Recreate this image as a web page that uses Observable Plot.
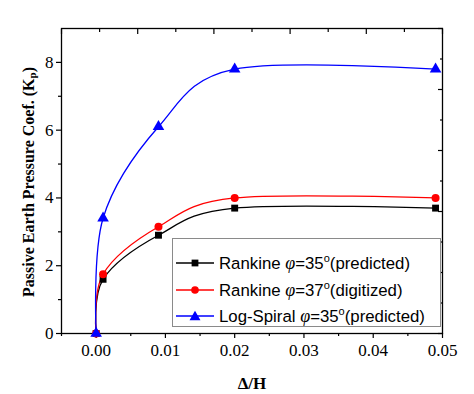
<!DOCTYPE html>
<html>
<head>
<meta charset="utf-8">
<script src="https://cdn.jsdelivr.net/npm/d3@7"></script>
<script src="https://cdn.jsdelivr.net/npm/@observablehq/plot@0.6"></script>
<style>
  html, body { margin: 0; padding: 0; background: #fff; }
  #wrap { position: relative; width: 474px; height: 394px; }
  #legend {
    position: absolute; left: 172px; top: 238px; width: 269px; height: 89px;
    border: 1px solid #8a8a8a; background: #fff; box-sizing: border-box;
    font-family: "Liberation Sans", Arial, sans-serif; font-size: 16.8px; color: #000;
  }
  .row { position: absolute; left: 0; height: 22px; display: flex; align-items: center; }
  .row svg { margin-left: 2px; }
  .row span { margin-left: 5px; white-space: nowrap; }
  .row i { font-family: "Liberation Serif", serif; font-size: 18px; }
  .row sup { font-size: 11px; vertical-align: 7px; line-height: 0; }
</style>
</head>
<body>
<div id="wrap"></div>
<script>
// Data
const xs = [0, 0.001, 0.009, 0.02, 0.049];
const rankine35 = [0, 1.6, 2.9, 3.7, 3.7];
const rankine37 = [0, 1.75, 3.15, 4.0, 4.0];
const logSpiral35 = [0, 3.4, 6.1, 7.8, 7.8];

const seriesColors = ["#000000", "#ff0000", "#0000ff"];
const seriesSymbols = ["square", "circle", "triangle"];

const xMajorTicks = [0, 0.01, 0.02, 0.03, 0.04, 0.05];
const xMinorTicks = [-0.005, 0.005, 0.015, 0.025, 0.035, 0.045];
const yMajorTicks = [0, 2, 4, 6, 8];
const yMinorTicks = [1, 3, 5, 7];

const xDomain = [-0.005, 0.05];
const yDomain = [0, 9];

const allSeries = [rankine35, rankine37, logSpiral35];
const data = allSeries.flatMap((vals, s) => xs.map((x, i) => ({x, y: vals[i], s})));

// top/right axes: 10 even divisions of the frame
const topTicks = d3.range(11).map(i => xDomain[0] + i * (xDomain[1] - xDomain[0]) / 10);
const rightTicks = d3.range(11).map(i => yDomain[0] + i * (yDomain[1] - yDomain[0]) / 10);

const marks = [
  Plot.frame({stroke: "#000", strokeWidth: 1.3}),
  Plot.axisX(xMajorTicks, {anchor: "bottom", tickSize: 5, tickPadding: 5, fontSize: 17,
    tickFormat: d3.format(".2f"), label: null, strokeWidth: 1.2}),
  Plot.axisX(xMinorTicks, {anchor: "bottom", tickSize: 3, text: null, label: null, strokeWidth: 1.2}),
  Plot.axisY(yMajorTicks, {anchor: "left", tickSize: 5, tickPadding: 3, fontSize: 17,
    tickFormat: d3.format("d"), label: null, strokeWidth: 1.2}),
  Plot.axisY(yMinorTicks, {anchor: "left", tickSize: 3, text: null, label: null, strokeWidth: 1.2}),
  Plot.axisX(topTicks.filter((d, i) => i % 2 === 0), {anchor: "top", tickSize: -5, text: null, label: null, strokeWidth: 1.2}),
  Plot.axisX(topTicks.filter((d, i) => i % 2 === 1), {anchor: "top", tickSize: -3, text: null, label: null, strokeWidth: 1.2}),
  Plot.axisY(rightTicks.filter((d, i) => i % 2 === 0), {anchor: "right", tickSize: -5, text: null, label: null, strokeWidth: 1.2}),
  Plot.axisY(rightTicks.filter((d, i) => i % 2 === 1), {anchor: "right", tickSize: -3, text: null, label: null, strokeWidth: 1.2}),
];

allSeries.forEach((vals, s) => {
  const pts = data.filter(d => d.s === s);
  marks.push(Plot.line(pts, {x: "x", y: "y", stroke: seriesColors[s], strokeWidth: 1.3, curve: "catmull-rom", tension: 0}));
});
const symR = [3.9, 4.0, 4.3];
allSeries.forEach((vals, s) => {
  const pts = data.filter(d => d.s === s);
  marks.push(Plot.dot(pts, {x: "x", y: "y", fill: seriesColors[s], stroke: "none",
    symbol: seriesSymbols[s], r: symR[s]}));
});

const chart = Plot.plot({
  width: 474,
  height: 394,
  marginLeft: 61,
  marginRight: 32,
  marginTop: 28,
  marginBottom: 61,
  x: {domain: xDomain},
  y: {domain: yDomain},
  style: {background: "#fff", color: "#000", fontFamily: "'Liberation Serif', serif", fontSize: "17px"},
  marks
});

const wrap = document.getElementById("wrap");
wrap.appendChild(chart);

const svg = d3.select(chart);
svg.selectAll("text").style("font-family", "'Liberation Serif', 'Times New Roman', serif");
svg.append("text")
  .attr("transform", "translate(28,182) rotate(-90)")
  .attr("text-anchor", "middle")
  .attr("dominant-baseline", "central")
  .style("font-family", "'Liberation Serif', serif")
  .attr("font-weight", "bold").attr("font-size", 16)
  .html('Passive Earth Pressure Coef. (K<tspan font-size="11" dy="4">p</tspan><tspan dy="-4">)</tspan>');
svg.append("text")
  .attr("x", 252).attr("y", 383)
  .attr("text-anchor", "middle")
  .attr("dominant-baseline", "central")
  .style("font-family", "'Liberation Serif', serif")
  .attr("font-weight", "bold").attr("font-size", 17)
  .text("Δ/H");

// Legend
const legendLabels = [
  ['Rankine ', '35', '(predicted)'],
  ['Rankine ', '37', '(digitized)'],
  ['Log-Spiral ', '35', '(predicted)'],
];
const legend = document.createElement("div");
legend.id = "legend";
const rowCenters = [24, 51, 77];
legendLabels.forEach((lab, s) => {
  const row = document.createElement("div");
  row.className = "row";
  row.style.top = (rowCenters[s] - 11) + "px";
  const sym = d3.symbol(s === 0 ? d3.symbolSquare : s === 1 ? d3.symbolCircle : d3.symbolTriangle,
    s === 2 ? 52 : 46)();
  row.innerHTML =
    `<svg width="39" height="22"><line x1="1" x2="39" y1="11" y2="11" stroke="${seriesColors[s]}" stroke-width="1.3"/>` +
    `<path transform="translate(20,${s === 2 ? 12 : 11})" d="${sym}" fill="${seriesColors[s]}"/></svg>` +
    `<span>${lab[0]}<i>φ</i>=${lab[1]}<sup>o</sup>${lab[2]}</span>`;
  legend.appendChild(row);
});
wrap.appendChild(legend);
</script>
</body>
</html>
